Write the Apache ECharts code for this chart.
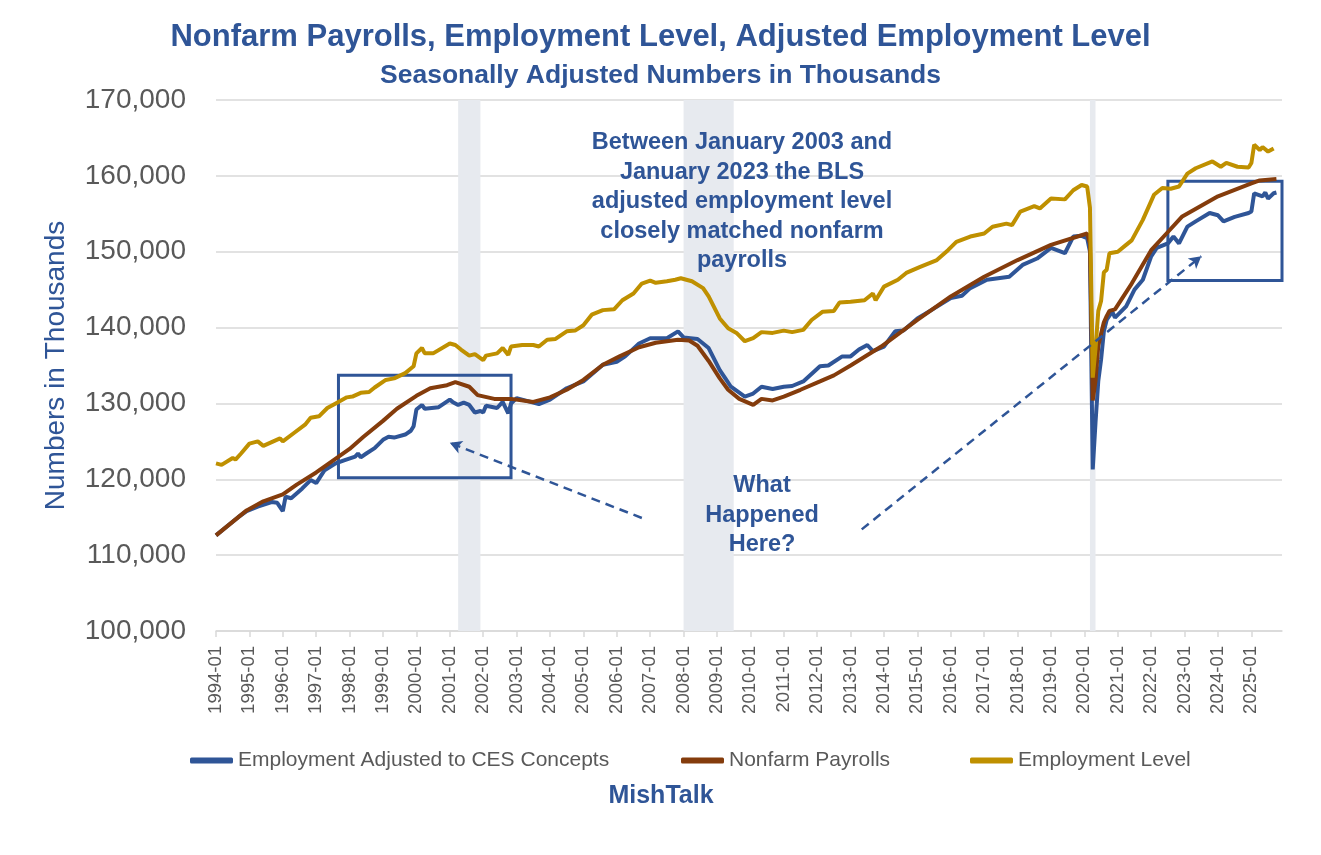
<!DOCTYPE html>
<html lang="en">
<head>
    <meta charset="UTF-8">
    <title>Nonfarm Payrolls, Employment Level, Adjusted Employment Level</title>
    <script src="https://cdn.jsdelivr.net/npm/echarts@6/dist/echarts.min.js"></script>
    <style>
        html, body { margin: 0; padding: 0; background: #fff; }
    </style>
</head>
<body>
    <div id="main" style="width: 1321px;height: 855px;"></div>

    <script type="text/javascript">
        // monthly axis, 1994-01 .. 2025-12
        var months = [];
        for (var y = 1994; y <= 2025; y++) {
            for (var m = 1; m <= 12; m++) {
                months.push(y + '-' + (m < 10 ? '0' + m : m));
            }
        }

        // Employment Adjusted to CES Concepts
        var adjusted = [
            ['1994-01',112600],['1994-05',113800],['1994-09',115000],['1994-12',115800],
            ['1995-04',116400],['1995-09',117000],['1995-11',116900],['1996-01',115800],
            ['1996-02',117700],['1996-04',117500],['1996-08',118800],['1996-11',119900],
            ['1997-01',119500],['1997-04',121200],['1997-08',122100],['1997-11',122500],
            ['1998-03',123000],['1998-04',123400],['1998-05',122900],['1998-07',123400],
            ['1998-10',124100],['1999-01',125200],['1999-03',125600],['1999-05',125500],
            ['1999-09',125900],['1999-11',126400],['1999-12',127000],['2000-01',129200],
            ['2000-03',129800],['2000-04',129300],['2000-09',129500],['2001-01',130500],
            ['2001-02',130200],['2001-04',129800],['2001-06',130100],['2001-08',129800],
            ['2001-10',128800],['2001-12',129000],['2002-01',128800],['2002-02',129700],
            ['2002-06',129400],['2002-08',130200],['2002-10',128700],['2002-11',130000],
            ['2003-01',130700],['2003-04',130400],['2003-09',129900],['2004-01',130500],
            ['2004-07',132000],['2005-01',132900],['2005-08',135100],['2006-01',135500],
            ['2006-04',136200],['2006-09',137900],['2007-01',138600],['2007-07',138600],
            ['2007-11',139500],['2008-01',138700],['2008-06',138500],['2008-10',137300],
            ['2009-02',134400],['2009-04',133300],['2009-06',132200],['2009-11',130900],
            ['2010-02',131300],['2010-05',132200],['2010-09',131900],['2011-01',132200],
            ['2011-04',132300],['2011-08',132900],['2012-02',134900],['2012-05',135000],
            ['2012-10',136200],['2013-01',136200],['2013-04',137100],['2013-07',137700],
            ['2013-09',136900],['2014-01',137500],['2014-05',139500],['2014-08',139600],
            ['2015-01',141200],['2015-06',142300],['2016-01',143900],['2016-05',144200],
            ['2016-08',145200],['2017-02',146300],['2017-10',146700],['2018-03',148300],
            ['2018-08',149100],['2019-01',150500],['2019-06',149800],['2019-09',152000],
            ['2019-12',152100],['2020-02',151800],['2020-03',150000],['2020-04',121300],
            ['2020-05',127500],['2020-06',133000],['2020-07',135800],['2020-08',139500],
            ['2020-09',141000],['2020-11',142100],['2020-12',141300],['2021-04',142800],
            ['2021-07',145000],['2021-10',146300],['2022-01',149400],['2022-03',150500],
            ['2022-07',151100],['2022-09',152000],['2022-11',151100],['2023-02',153300],
            ['2023-05',154000],['2023-10',155100],['2024-01',154800],['2024-03',154000],
            ['2024-07',154600],['2024-12',155100],['2025-01',155300],['2025-02',157700],
            ['2025-05',157300],['2025-06',157800],['2025-07',157000],['2025-09',157700],
            ['2025-10',157800]
        ];

        // Nonfarm Payrolls
        var payrolls = [
            ['1994-01',112600],['1994-12',115900],['1995-06',117100],['1996-01',118000],
            ['1996-06',119300],['1997-01',120900],['1997-06',122200],['1998-01',124000],
            ['1998-06',125600],['1999-01',127700],['1999-06',129300],['2000-01',131000],
            ['2000-06',132000],['2000-12',132400],['2001-03',132800],['2001-08',132200],
            ['2001-11',131100],['2002-05',130600],['2002-11',130600],['2003-07',130200],
            ['2004-01',130800],['2004-07',131800],['2005-01',133100],['2005-08',135100],
            ['2006-02',136200],['2006-09',137400],['2007-03',138000],['2007-11',138400],
            ['2008-03',138300],['2008-06',137600],['2008-10',135600],['2009-02',133300],
            ['2009-05',131800],['2009-09',130600],['2010-02',129800],['2010-05',130600],
            ['2010-09',130400],['2011-01',130900],['2011-07',131800],['2012-02',132900],
            ['2012-07',133700],['2013-01',135000],['2013-12',137500],['2015-01',141000],
            ['2016-01',144100],['2017-01',146700],['2018-01',148900],['2019-01',150900],
            ['2020-02',152400],['2020-03',151100],['2020-04',130400],['2020-05',133000],
            ['2020-06',137600],['2020-07',139200],['2020-08',140700],['2020-09',141500],
            ['2020-10',142200],['2020-12',142400],['2021-06',145800],['2022-01',150200],
            ['2022-07',152600],['2022-12',154600],['2024-01',157300],['2025-01',159000],
            ['2025-04',159400],['2025-10',159600]
        ];

        // Employment Level (household survey)
        var employment = [
            ['1994-01',122100],['1994-03',121900],['1994-07',122800],['1994-08',122600],
            ['1994-10',123400],['1995-01',124700],['1995-04',125000],['1995-06',124400],
            ['1995-12',125400],['1996-01',125000],['1996-05',126100],['1996-09',127200],
            ['1996-11',128100],['1997-02',128300],['1997-05',129400],['1997-08',130000],
            ['1997-12',130800],['1998-02',130900],['1998-05',131400],['1998-08',131500],
            ['1998-10',132100],['1999-02',133100],['1999-05',133300],['1999-09',134000],
            ['1999-11',134600],['1999-12',134900],['2000-01',136600],['2000-03',137300],
            ['2000-04',136600],['2000-07',136600],['2001-01',137900],['2001-03',137700],
            ['2001-05',137100],['2001-08',136300],['2001-10',136500],['2002-01',135700],
            ['2002-02',136300],['2002-06',136600],['2002-08',137300],['2002-10',136400],
            ['2002-11',137500],['2003-03',137700],['2003-07',137700],['2003-09',137500],
            ['2003-12',138400],['2004-03',138500],['2004-07',139500],['2004-10',139600],
            ['2005-01',140300],['2005-04',141700],['2005-08',142300],['2005-12',142400],
            ['2006-03',143600],['2006-07',144500],['2006-10',145800],['2007-01',146200],
            ['2007-03',145900],['2007-07',146100],['2007-10',146300],['2007-12',146500],
            ['2008-04',146100],['2008-08',145200],['2008-10',144100],['2009-02',141200],
            ['2009-05',139900],['2009-08',139300],['2009-11',138200],['2010-02',138600],
            ['2010-05',139400],['2010-09',139300],['2011-01',139600],['2011-04',139400],
            ['2011-08',139700],['2011-11',141000],['2012-03',142100],['2012-07',142200],
            ['2012-09',143300],['2013-01',143400],['2013-06',143600],['2013-09',144500],
            ['2013-10',143600],['2014-01',145400],['2014-06',146300],['2014-09',147200],
            ['2015-02',148000],['2015-08',148900],['2015-12',150200],['2016-03',151300],
            ['2016-08',152000],['2017-01',152400],['2017-04',153300],['2017-09',153700],
            ['2017-11',153500],['2018-02',155300],['2018-07',156000],['2018-09',155700],
            ['2019-01',157000],['2019-06',156900],['2019-09',158100],['2019-12',158800],
            ['2020-02',158600],['2020-03',155800],['2020-04',133400],['2020-05',137200],
            ['2020-06',142200],['2020-07',143500],['2020-08',147300],['2020-09',147600],
            ['2020-10',149800],['2021-01',150000],['2021-04',150900],['2021-06',151500],
            ['2021-10',154200],['2022-02',157500],['2022-05',158400],['2022-08',158300],
            ['2022-11',158600],['2023-02',160300],['2023-05',161000],['2023-11',161900],
            ['2024-02',161200],['2024-04',161700],['2024-08',161200],['2024-12',161100],
            ['2025-01',161700],['2025-02',164100],['2025-04',163400],['2025-05',163800],
            ['2025-07',163200],['2025-09',163600]
        ];

        // recession shading, highlight boxes, arrows
        var recessions = [['2001-04','2001-12'],['2008-01','2009-07'],['2020-03','2020-05']];
        var boxes = [
            [['1997-09',133700],['2002-11',120200]],
            [['2022-07',159300],['2025-12',146200]]
        ];
        var arrows = [
            [['2006-10',114900],['2001-01',124800]],
            [['2013-05',113400],['2023-07',149400]]
        ];

        var seriesNames = ['Employment Adjusted to CES Concepts', 'Nonfarm Payrolls', 'Employment Level'];
        var legendLeft = [185, 676, 965];

        var blue = '#2F5597', brown = '#843C0C', gold = '#BF9000', grey = '#595959';
        var sans = '"Liberation Sans", Arial, sans-serif';

        var myChart = echarts.init(document.getElementById('main'));
        var option = {
            animation: false,
            title: {
                text: 'Nonfarm Payrolls, Employment Level, Adjusted Employment Level',
                subtext: 'Seasonally Adjusted Numbers in Thousands',
                left: 'center',
                top: 17,
                itemGap: 9,
                textStyle: { fontFamily: sans, fontWeight: 'bold', fontSize: 31, color: blue },
                subtextStyle: { fontFamily: sans, fontWeight: 'bold', fontSize: 26.5, color: blue }
            },
            // one legend per item so each sits where the original puts it
            legend: seriesNames.map(function (n, i) {
                return {
                    top: 745,
                    left: legendLeft[i],
                    itemWidth: 43,
                    itemHeight: 6,
                    icon: 'roundRect',
                    textStyle: { fontFamily: sans, fontSize: 21, color: grey },
                    data: [n]
                };
            }),
            grid: { left: 216, right: 39, top: 100, bottom: 224 },
            xAxis: {
                type: 'category',
                data: months,
                boundaryGap: false,
                axisLine: { lineStyle: { color: '#D9D9D9', width: 1.5 } },
                axisTick: { interval: 11, length: 6, lineStyle: { color: '#D9D9D9', width: 1.5 } },
                axisLabel: {
                    interval: 11, rotate: 90, margin: 15,
                    fontFamily: sans, fontSize: 18.5, color: grey
                },
                splitLine: { show: false }
            },
            yAxis: {
                type: 'value',
                min: 100000,
                max: 170000,
                interval: 10000,
                name: 'Numbers in Thousands',
                nameLocation: 'middle',
                nameGap: 146,
                nameTextStyle: { fontFamily: sans, fontSize: 28, color: blue },
                axisLine: { show: false },
                axisTick: { show: false },
                axisLabel: {
                    margin: 30, fontFamily: sans, fontSize: 28, color: grey,
                    formatter: function (v) { return v.toLocaleString('en-US'); }
                },
                splitLine: { lineStyle: { color: '#D9D9D9', width: 1.5 } }
            },
            series: [
                {
                    name: seriesNames[0],
                    type: 'line',
                    data: adjusted,
                    showSymbol: false,
                    color: blue,
                    lineStyle: { width: 4 },
                    markArea: {
                        silent: true,
                        itemStyle: { color: '#E7EAEF' },
                        data: recessions.map(function (r) {
                            return [{ xAxis: r[0] }, { xAxis: r[1] }];
                        })
                    },
                    markLine: {
                        silent: true,
                        symbolSize: [10, 12],
                        label: { show: false },
                        lineStyle: { color: blue, width: 2.5, type: [9, 6] },
                        data: arrows.map(function (a) {
                            return [{ coord: a[0], symbol: 'none' }, { coord: a[1], symbol: 'arrow' }];
                        })
                    }
                },
                {
                    name: seriesNames[1],
                    type: 'line',
                    data: payrolls,
                    showSymbol: false,
                    color: brown,
                    lineStyle: { width: 4 },
                    markArea: {
                        silent: true,
                        itemStyle: { color: 'rgba(0,0,0,0)', borderColor: blue, borderWidth: 3 },
                        data: boxes.map(function (b) {
                            return [{ coord: b[0] }, { coord: b[1] }];
                        })
                    }
                },
                {
                    name: seriesNames[2],
                    type: 'line',
                    data: employment,
                    showSymbol: false,
                    color: gold,
                    lineStyle: { width: 4 }
                }
            ],
            graphic: [
                {
                    type: 'text', x: 742, y: 128, z: 100,
                    style: {
                        text: 'Between January 2003 and\nJanuary 2023 the BLS\nadjusted employment level\nclosely matched nonfarm\npayrolls',
                        align: 'center', verticalAlign: 'top', lineHeight: 29.5,
                        font: 'bold 23.5px ' + sans, fill: blue
                    }
                },
                {
                    type: 'text', x: 762, y: 471, z: 100,
                    style: {
                        text: 'What\nHappened\nHere?',
                        align: 'center', verticalAlign: 'top', lineHeight: 29.5,
                        font: 'bold 23.5px ' + sans, fill: blue
                    }
                },
                {
                    type: 'text', x: 661, y: 784,
                    style: { text: 'MishTalk', align: 'center', verticalAlign: 'top', font: 'bold 25px ' + sans, fill: blue }
                }
            ]
        };
        myChart.setOption(option);
    </script>
</body>
</html>
